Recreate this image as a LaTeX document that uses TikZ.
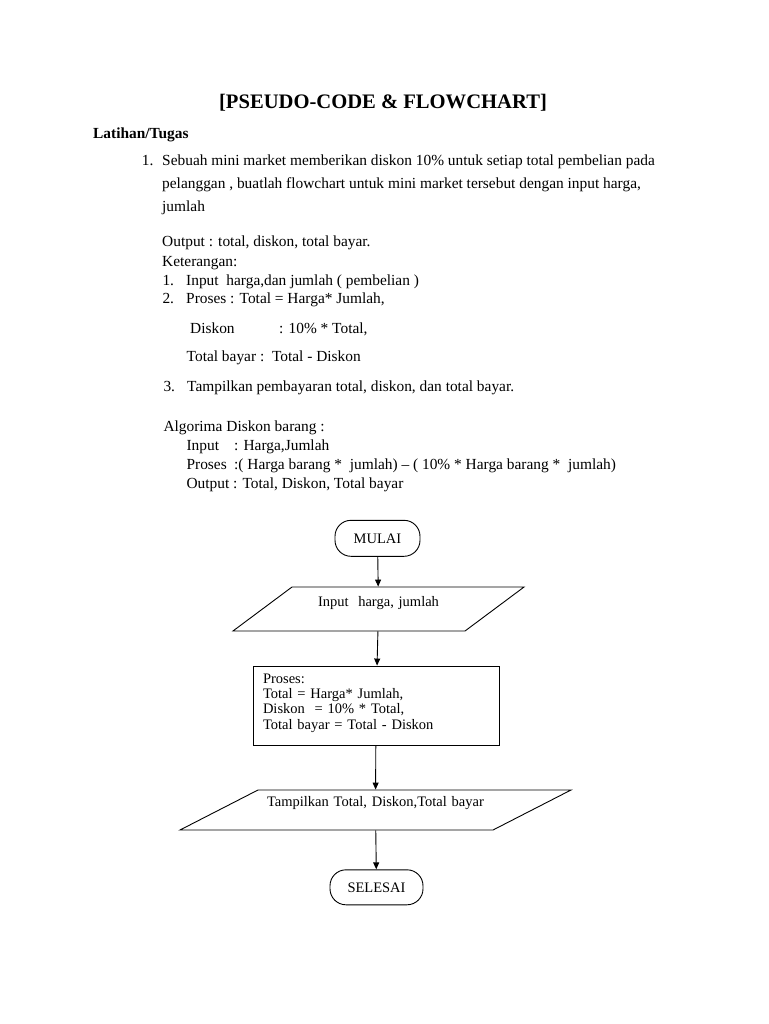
\documentclass[tikz,border=0pt]{standalone}
\usepackage{fontspec}
\setmainfont{Liberation Serif}
\usepackage{tikz}
\usetikzlibrary{positioning,shapes.geometric,arrows.meta}
\tikzset{txt/.style={anchor=base west, inner sep=0pt, font=\fontsize{15.4}{18}\selectfont},
         term/.style={draw, rectangle, rounded corners=16pt, line width=0.9pt, inner sep=0pt,
                      font=\fontsize{14.5}{15.2}\selectfont},
         io/.style={draw, trapezium, line width=0.9pt, inner xsep=0pt, inner ysep=0pt,
                    minimum width=0pt, minimum height=0pt, align=center,
                    font=\fontsize{14.5}{15.2}\selectfont},
         procbox/.style={draw, rectangle, line width=0.9pt, inner xsep=10pt, inner ysep=0pt,
                         align=left, font=\fontsize{14.5}{15.2}\selectfont},
         flow/.style={-{Triangle[length=7pt,width=6pt]}, line width=0.9pt}
}

\begin{document}
\begin{tikzpicture}[x=1pt,y=-1pt]
      \fill[white] (0,0) rectangle (768,1024);
      \useasboundingbox (0,0) rectangle (768,1024);
      \node[anchor=base, inner sep=0pt, font=\fontsize{20.6}{24}\selectfont\bfseries] (title) at (383,109) {[PSEUDO-CODE \& FLOWCHART]};
      \node[txt, font=\fontsize{15.4}{18}\selectfont\bfseries] (tugas) at (93,138.5) {Latihan/Tugas};
      \node[txt] (soal1) at (141.7,166) {\makebox[20.3pt][l]{1.}Sebuah mini market memberikan diskon 10\% untuk setiap total pembelian pada};
      \node[txt] (soal2) at (162,189) {pelanggan , buatlah flowchart untuk mini market tersebut dengan input harga,};
      \node[txt] (soal3) at (162,212) {jumlah};
      \node[txt] (output) at (162,247) {Output : total, diskon, total bayar.};
      \node[txt] (ket) at (162,266.5) {Keterangan:};
      \node[txt] (ket1) at (162.3,285) {\makebox[23.7pt][l]{1.}Input\ \ harga,dan jumlah ( pembelian )};
      \node[txt] (ket2) at (162.3,303.5) {\makebox[23.7pt][l]{2.}Proses : Total = Harga* Jumlah,};
      \node[txt] (ketdiskon) at (190,333) {\makebox[89pt][l]{Diskon}: 10\% * Total,};
      \node[txt] (ketbayar) at (186.5,361.5) {Total bayar :\ \ Total - Diskon};
      \node[txt] (ket3) at (163.3,391) {\makebox[23.7pt][l]{3.}Tampilkan pembayaran total, diskon, dan total bayar.};
      \node[txt] (algo) at (163.3,431) {Algorima Diskon barang :};
      \node[txt] (algoin) at (186.4,450.5) {\makebox[47.6pt][l]{Input}: Harga,Jumlah};
      \node[txt] (algopro) at (186.4,469) {\makebox[47.6pt][l]{Proses}:( Harga barang *\ \ jumlah) -- ( 10\% * Harga barang *\ \ jumlah)};
      \node[txt] (algoout) at (186.4,488.5) {Output : Total, Diskon, Total bayar};
      \node[term, minimum width=85pt, minimum height=36pt] (mulai) at (377.5,538.3) {MULAI};
      \node[io, trapezium left angle=36.7, trapezium right angle=143.3, text width=173pt,
            text height=19pt, text depth=25pt] (input) at (378.5,609) {Input\ \ harga, jumlah};
      \node[procbox, minimum width=246pt, minimum height=79pt, text width=226pt,
            text height=10pt, text depth=54pt] (proses) at (376,705.5)
            {Proses:\\Total = Harga* Jumlah,\\Diskon\ \ = 10\% * Total,\\Total bayar = Total - Diskon};
      \node[io, trapezium left angle=27.15, trapezium right angle=152.85, text width=235pt,
            text height=16pt, text depth=24pt] (tampil) at (375.5,810) {Tampilkan Total, Diskon,Total bayar};
      \node[term, minimum width=93pt, minimum height=35pt] (selesai) at (376.5,887.3) {SELESAI};
      \draw[flow] (mulai) -- (input);
      \draw[flow] (input) -- (proses);
      \draw[flow] (proses) -- (tampil);
      \draw[flow] (tampil) -- (selesai);
    \end{tikzpicture}
\end{document}
